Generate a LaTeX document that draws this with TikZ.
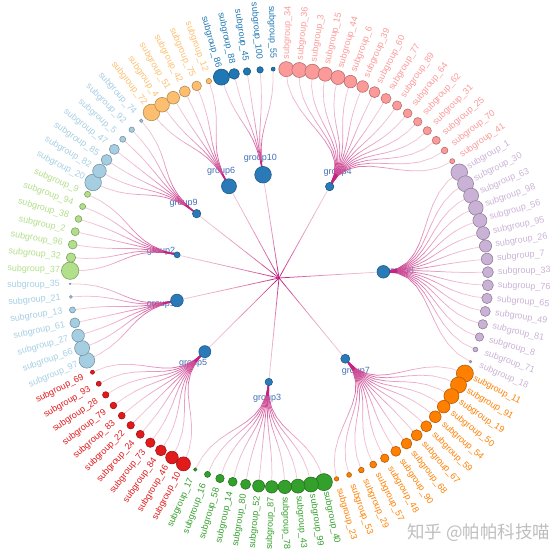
\documentclass[tikz,border=0pt]{standalone}
\usepackage{fontspec}
\setmainfont{Liberation Sans}
\newfontfamily\cjkfont{Noto Sans CJK SC}
\usetikzlibrary{calc}
\definecolor{cPink}{HTML}{FB9A99}
\definecolor{cPurple}{HTML}{CAB2D6}
\definecolor{cOrange}{HTML}{FF7F00}
\definecolor{cGreen}{HTML}{33A02C}
\definecolor{cRed}{HTML}{E31A1C}
\definecolor{cLBlue}{HTML}{A6CEE3}
\definecolor{cLGreen}{HTML}{B2DF8A}
\definecolor{cLOrange}{HTML}{FDBF6F}
\definecolor{cBlue}{HTML}{1F78B4}
\definecolor{gNode}{HTML}{2A7AB8}
\definecolor{gText}{RGB}{65,110,180}
\definecolor{linkA}{RGB}{190,20,120}
\definecolor{linkB}{RGB}{248,218,228}
\definecolor{wmark}{RGB}{190,190,190}
\pgfdeclarelayer{labs}
\pgfdeclarelayer{links}
\pgfsetlayers{labs,links,main}
\newcommand\gradseg{%
  \foreach \sg/\pcv in {0/92,1/72,2/57,3/45,4/36,5/29,6/23,7/18,8/13,9/9}{%
    \pgfmathtruncatemacro\sgn{\sg+1}%
    \draw[linkseg, draw=linkA!\pcv!linkB] (q\sg) -- (q\sgn);%
  }%
}
\begin{document}
\begin{tikzpicture}[
  leafdot/.style={circle, inner sep=0pt, outer sep=0pt, line width=0.6pt},
  groupdot/.style={circle, inner sep=0pt, outer sep=0pt, fill=gNode, draw=gNode!75!black, line width=0.6pt},
  leaflabel/.style={font=\fontsize{9}{10}\selectfont, inner sep=0pt},
  grouplabel/.style={font=\fontsize{9}{10}\selectfont, text=gText, inner sep=0pt},
  linkseg/.style={line width=0.75pt, line cap=round},
  wmtext/.style={font=\cjkfont\fontsize{17.5}{20}\selectfont, text=wmark, inner sep=0pt, anchor=west},
]
\useasboundingbox (-279pt,-277pt) rectangle (279pt,278pt);
\node[circle, fill=linkA, inner sep=0pt, minimum size=2.5pt] (root) at (0,0) {};
\foreach \gn/\ga/\gb/\gr/\col/\lst in {
 4/0/15/4.2/cPink/{34/7.5,36/7.5,3/7.5,15/7,44/7,6/6.3,39/5.8,60/5.5,77/5,89/4.6,64/4.4,62/4.2,31/4.1,25/4,70/3.3,41/2.5},
 8/16/31/6.3/cPurple/{1/8.3,30/8,63/7.5,98/7.3,56/7,95/6.5,26/6.1,7/5.8,33/5.5,76/5.5,65/5.2,49/5,81/4.7,8/4.2,71/2.4,18/1.3},
 7/32/45/4.5/cOrange/{11/8.5,91/8,19/7.5,50/6.3,54/5.8,59/5.5,67/5.5,68/5.4,90/5,48/4.2,57/3.4,29/2.8,53/2.4,23/2.2},
 3/46/56/3.7/cGreen/{40/8.5,99/7.5,43/7,78/6.7,87/6.2,52/6,80/5,14/4.4,58/4.2,16/3,17/1.7},
 5/57/67/6/cRed/{10/7,46/6.3,84/5.4,73/4.7,24/4,22/3.7,83/3.4,79/3.3,28/3.2,93/2.5,69/2},
 1/68/74/6.3/cLBlue/{97/7.8,66/7.5,27/6.3,61/5,13/3,21/1.4,35/0.8},
 2/75/81/3/cLGreen/{37/8.7,32/4.7,96/4.4,2/4,38/3.4,94/3,9/3},
 9/82/88/4.2/cLBlue/{20/8.3,82/6.8,85/5.4,47/5,5/3,92/2.7,74/1.7},
 6/89/94/7.5/cLOrange/{72/8.3,4/7.3,51/6.3,42/5.5,75/4.8,12/2.7},
 10/95/99/8.3/cBlue/{86/8,88/5.3,45/3.7,100/3.2,55/2}}{
  \pgfmathsetmacro\phig{90-(2+3.6*(\ga+\gb)/2)}
  \pgfmathsetmacro\gd{2*\gr}
  \node[groupdot, minimum size=\gd pt] (g\gn) at (\phig:104.5pt) {};
  \begin{pgfonlayer}{labs}
    \node[grouplabel] (gl\gn) at (\phig:121pt) {group\gn};
  \end{pgfonlayer}
  \begin{pgfonlayer}{links}
    \path (root.center) -- (g\gn.center)
      coordinate[pos=0] (q0) coordinate[pos=0.1] (q1) coordinate[pos=0.2] (q2)
      coordinate[pos=0.3] (q3) coordinate[pos=0.4] (q4) coordinate[pos=0.5] (q5)
      coordinate[pos=0.6] (q6) coordinate[pos=0.7] (q7) coordinate[pos=0.8] (q8)
      coordinate[pos=0.9] (q9) coordinate[pos=1] (q10);
    \gradseg
  \end{pgfonlayer}
  \foreach \num/\rr [count=\kk from 0] in \lst {
    \pgfmathsetmacro\phil{90-(2+3.6*(\ga+\kk))}
    \pgfmathsetmacro\dd{2*\rr}
    \node[leafdot, minimum size=\dd pt, fill=\col, draw=\col!72!black] (l\num) at (\phil:209pt) {};
    \coordinate (c1) at (\phig:156.75pt);
    \coordinate (c2) at (\phil:156.75pt);
    \begin{pgfonlayer}{links}
      \path (g\gn.center) .. controls (c1) and (c2) .. (l\num.center)
        coordinate[pos=0] (q0) coordinate[pos=0.1] (q1) coordinate[pos=0.2] (q2)
        coordinate[pos=0.3] (q3) coordinate[pos=0.4] (q4) coordinate[pos=0.5] (q5)
        coordinate[pos=0.6] (q6) coordinate[pos=0.7] (q7) coordinate[pos=0.8] (q8)
        coordinate[pos=0.9] (q9) coordinate[pos=1] (q10);
      \gradseg
    \end{pgfonlayer}
    \ifdim \phil pt > -90pt
      \node[leaflabel, text=\col, anchor=west, rotate=\phil] (t\num) at (\phil:219pt) {subgroup\_\num};
    \else
      \pgfmathsetmacro\rot{\phil+180}
      \node[leaflabel, text=\col, anchor=east, rotate=\rot] (t\num) at (\phil:219pt) {subgroup\_\num};
    \fi
  }
}
\node[wmtext] (wm) at (128pt,-255pt) {知乎 @帕帕科技喵};
\end{tikzpicture}
\end{document}
